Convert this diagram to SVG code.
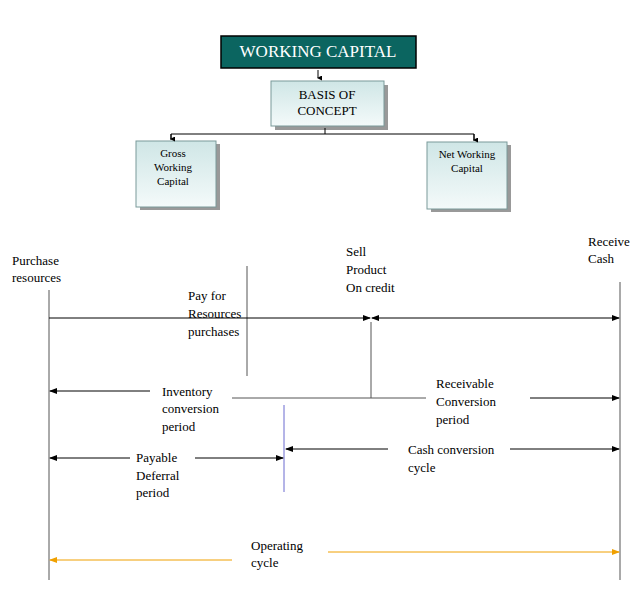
<svg xmlns="http://www.w3.org/2000/svg" width="640" height="614" viewBox="0 0 640 614">
<style>
text{font-family:"Liberation Serif",serif;font-size:13px;fill:#000}
.b{fill:url(#g);stroke:#7a9a9a;stroke-width:1}
.sh{fill:#999}
.l{stroke:#000;stroke-width:1;fill:none}
.t{stroke:#555;stroke-width:1;fill:none}
</style>
<defs>
<linearGradient id="g" x1="0" y1="0" x2="0" y2="1"><stop offset="0" stop-color="#cfe6e6"/><stop offset="1" stop-color="#f4fafa"/></linearGradient>
<marker id="a" markerWidth="8" markerHeight="6" refX="7" refY="3" orient="auto-start-reverse" markerUnits="userSpaceOnUse"><path d="M0,0L8,3L0,6z" fill="#000"/></marker>
<marker id="ao" markerWidth="8" markerHeight="6" refX="7" refY="3" orient="auto-start-reverse" markerUnits="userSpaceOnUse"><path d="M0,0L8,3L0,6z" fill="#f0a000"/></marker>
<marker id="s" markerWidth="5" markerHeight="5" refX="2.5" refY="4" orient="auto" markerUnits="userSpaceOnUse"><path d="M0,0L5,0L2.5,5z" fill="#000"/></marker>
</defs>
<g id="wc"><rect x="221" y="36" width="195" height="32" fill="#0b6560" stroke="#000" stroke-width="1.5"/><text x="318" y="57" text-anchor="middle" style="fill:#fff;font-size:17px">WORKING CAPITAL</text></g>
<g id="boc"><rect x="275" y="85" width="113" height="45" class="sh"/><rect x="271" y="81" width="113" height="45" class="b"/><text x="327" y="99" text-anchor="middle">BASIS OF</text><text x="327" y="115" text-anchor="middle">CONCEPT</text></g>
<g id="gwc"><rect x="140" y="144" width="80" height="66" class="sh"/><rect x="136" y="141" width="80" height="66" class="b"/><text x="173" y="157" text-anchor="middle" font-size="11" style="font-size:11px">Gross</text><text x="173" y="171" text-anchor="middle" style="font-size:11px">Working</text><text x="173" y="185" text-anchor="middle" style="font-size:11px">Capital</text></g>
<g id="nwc"><rect x="431" y="145" width="80" height="67" class="sh"/><rect x="427" y="142" width="80" height="67" class="b"/><text x="467" y="158" text-anchor="middle" style="font-size:11px">Net Working</text><text x="467" y="172" text-anchor="middle" style="font-size:11px">Capital</text></g>
<g id="connectors">
<path class="l" d="M318,70V78" marker-end="url(#s)"/>
<path class="l" d="M325,128V134M171,134H474M171,134V140M474,134V141"/>
<path class="l" d="M171,134V139" marker-end="url(#s)"/>
<path class="l" d="M474,134V140" marker-end="url(#s)"/>
<path class="t" d="M49,290V580M620,282V580M371,322V398M247,266V376"/>
<path d="M284,405V492" stroke="#6a6ad0" stroke-width="1"/>
<path class="l" d="M49,318H370" marker-end="url(#a)"/>
<path class="l" d="M372,318H619" marker-start="url(#a)" marker-end="url(#a)"/>
<path class="l" d="M150,391H50" marker-end="url(#a)"/>
<path class="t" d="M232,398H426"/>
<path class="l" d="M530,398H619" marker-end="url(#a)"/>
<path class="l" d="M50,458H130" marker-start="url(#a)"/>
<path class="l" d="M195,458H283" marker-end="url(#a)"/>
<path class="l" d="M286,449H388" marker-start="url(#a)"/>
<path class="l" d="M510,449H619" marker-end="url(#a)"/>
<path d="M232,560H50" stroke="#f0a000" marker-end="url(#ao)"/>
<path d="M328,552H619" stroke="#f0a000" marker-end="url(#ao)"/>
</g>
<g id="labels">
<text x="12" y="265">Purchase</text><text x="12" y="282">resources</text>
<text x="346" y="256">Sell</text><text x="346" y="274">Product</text><text x="346" y="292">On credit</text>
<text x="588" y="246">Receive</text><text x="588" y="263">Cash</text>
<text x="188" y="300">Pay for</text><text x="188" y="318">Resources</text><text x="188" y="336">purchases</text>
<text x="162" y="396">Inventory</text><text x="162" y="413">conversion</text><text x="162" y="431">period</text>
<text x="436" y="388">Receivable</text><text x="436" y="406">Conversion</text><text x="436" y="424">period</text>
<text x="136" y="462">Payable</text><text x="136" y="480">Deferral</text><text x="136" y="497">period</text>
<text x="408" y="454">Cash conversion</text><text x="408" y="472">cycle</text>
<text x="251" y="550">Operating</text><text x="251" y="567">cycle</text>
</g>
</svg>
